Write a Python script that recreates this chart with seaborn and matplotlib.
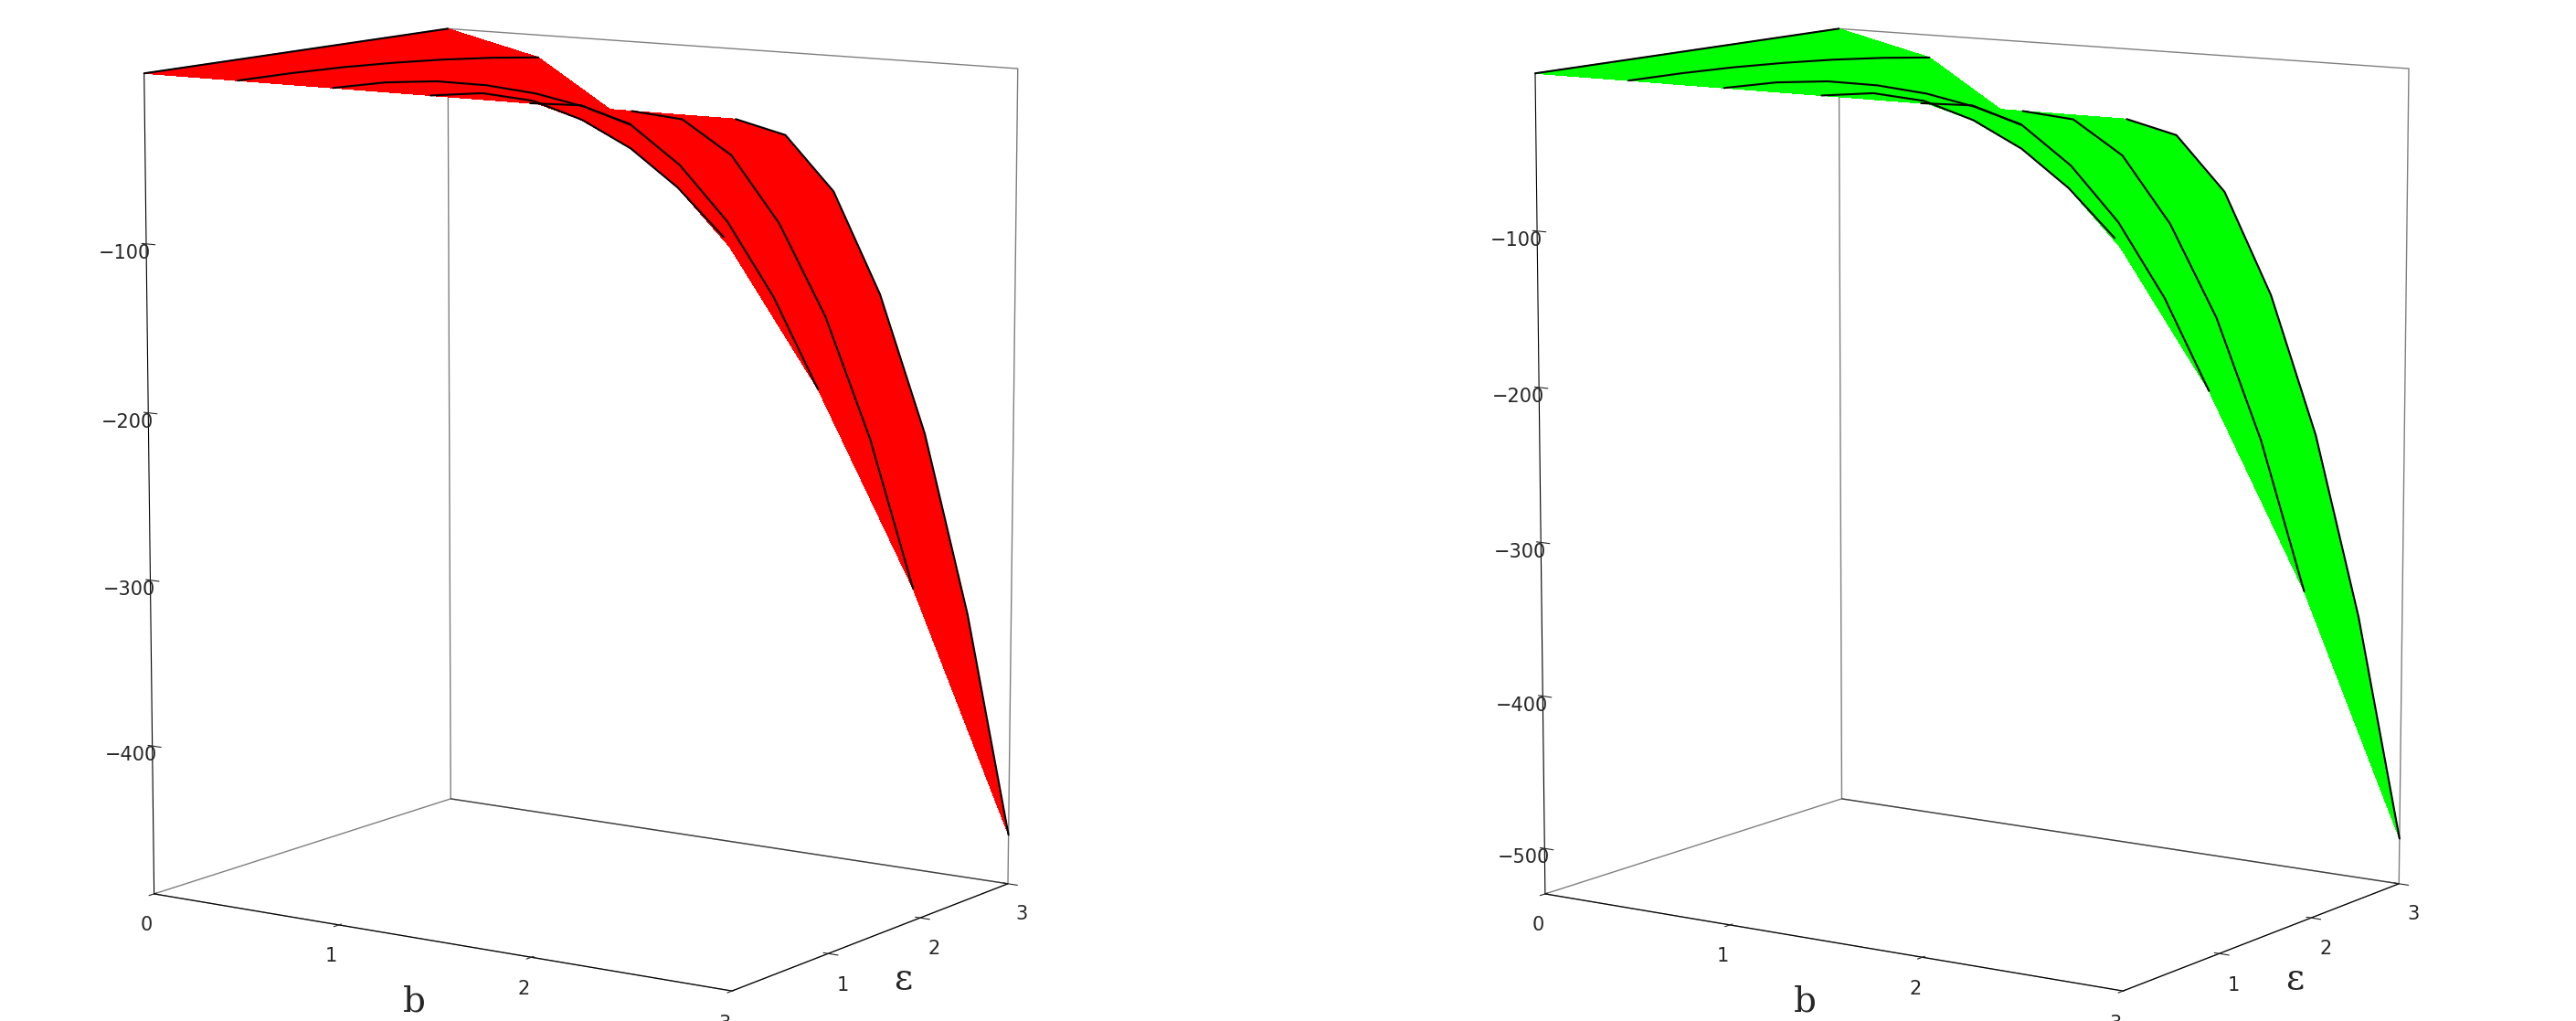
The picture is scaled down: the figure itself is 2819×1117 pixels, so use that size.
import numpy as np
import matplotlib.pyplot as plt
import seaborn as sns

sns.set_style("white")
plt.rcParams['font.family'] = ['DejaVu Sans']

# grid values
b_vals = [0, 0.5, 1.0, 1.5, 2.0, 2.5, 3.0]
eps_vals = [0, 0.5, 1.0, 1.5, 2.0, 2.5, 3.0]
# relative profiles along b and epsilon (0..1), depth at corner (3,3)
b_profile = [0.0, 0.03, 0.11, 0.25, 0.44, 0.69, 1.0]
eps_profile = [0.0, 0.03, 0.11, 0.25, 0.44, 0.69, 1.0]
depth_left = -460
depth_right = -500
zlim_left = (-490, 0)
zlim_right = (-530, 0)
zticks_left = [-100, -200, -300, -400]
zticks_right = [-100, -200, -300, -400, -500]

B, E = np.meshgrid(b_vals, eps_vals, indexing='ij')
prof = np.outer(b_profile, eps_profile)

fig = plt.figure(figsize=(28.19, 11.17), dpi=100)
panels = [(depth_left, zlim_left, zticks_left, '#ff0000', [-0.04, -0.06, 0.52, 1.14]),
          (depth_right, zlim_right, zticks_right, '#00ff00', [0.5, -0.06, 0.52, 1.14])]
for depth, zlim, zt, col, rect in panels:
    ax = fig.add_axes(rect, projection='3d')
    Z = depth * prof
    ax.plot_surface(B, E, Z, color=col, shade=False, linewidth=0, antialiased=False)
    for i in range(len(b_vals)):
        ax.plot(B[i, :], E[i, :], Z[i, :], color='black', lw=1.5)
    ax.set_xlim(0, 3)
    ax.set_ylim(0, 3)
    ax.set_zlim(*zlim)
    ax.set_xticks([0, 1, 2, 3])
    ax.set_yticks([1, 2, 3])
    ax.set_zticks(zt)
    ax.tick_params(labelsize=15)
    ax.set_xlabel('b', fontsize=28, family='DejaVu Serif', labelpad=10)
    ax.set_ylabel('ε', fontsize=28, family='DejaVu Serif', labelpad=2)
    ax.zaxis._axinfo['juggled'] = (1, 2, 0)
    ax.grid(False)
    for a in (ax.xaxis, ax.yaxis, ax.zaxis):
        a.pane.fill = False
        a.pane.set_edgecolor('black')
        a.line.set_color('black')
    ax.view_init(elev=10, azim=-56)
    ax.set_box_aspect((1, 0.75, 1.2))

fig.savefig('out.png', dpi=100)
